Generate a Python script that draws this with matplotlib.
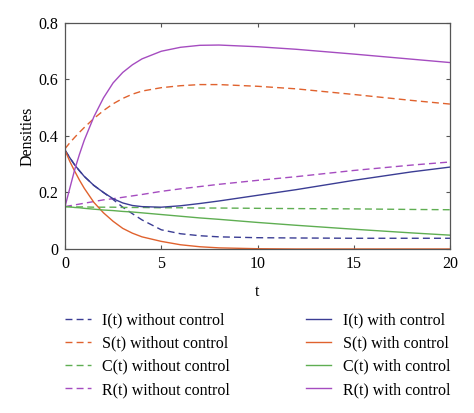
import matplotlib.pyplot as plt

plt.rcParams['font.family'] = ['Liberation Serif', 'DejaVu Serif']

# values
t = [0, 0.25, 0.5, 0.75, 1, 1.5, 2, 2.5, 3, 3.5, 4, 5, 6, 7, 8, 10, 12, 15, 18, 20]

I_wo = [0.35, 0.323, 0.298, 0.277, 0.257, 0.225, 0.2, 0.175, 0.148, 0.125, 0.103,
        0.068, 0.054, 0.047, 0.043, 0.040, 0.039, 0.038, 0.038, 0.038]
S_wo = [0.355, 0.376, 0.395, 0.413, 0.43, 0.462, 0.49, 0.514, 0.533, 0.548, 0.559,
        0.571, 0.578, 0.582, 0.582, 0.576, 0.567, 0.547, 0.526, 0.513]
C_wo = [0.15, 0.15, 0.149, 0.149, 0.149, 0.148, 0.148, 0.148, 0.147, 0.147, 0.147,
        0.146, 0.146, 0.145, 0.145, 0.144, 0.143, 0.142, 0.140, 0.139]
R_wo = [0.15, 0.153, 0.156, 0.159, 0.162, 0.168, 0.174, 0.178, 0.183, 0.188, 0.193,
        0.204, 0.213, 0.221, 0.229, 0.243, 0.256, 0.278, 0.297, 0.308]

I_w = [0.35, 0.323, 0.298, 0.277, 0.257, 0.225, 0.2, 0.178, 0.163, 0.154, 0.15,
       0.148, 0.153, 0.161, 0.17, 0.19, 0.21, 0.243, 0.273, 0.29]
S_w = [0.35, 0.31, 0.276, 0.244, 0.215, 0.165, 0.128, 0.098, 0.073, 0.056, 0.043,
       0.027, 0.015, 0.008, 0.004, 0.001, 0.0, 0.0, 0.0, 0.0]
C_w = [0.15, 0.149, 0.147, 0.146, 0.144, 0.141, 0.138, 0.136, 0.133, 0.131, 0.128,
       0.122, 0.116, 0.11, 0.105, 0.094, 0.084, 0.07, 0.057, 0.049]
R_w = [0.15, 0.215, 0.28, 0.335, 0.385, 0.468, 0.535, 0.588, 0.625, 0.652, 0.673,
       0.70, 0.714, 0.721, 0.722, 0.716, 0.707, 0.69, 0.672, 0.66]

colors = ['#3b3d94', '#e0622e', '#5fae52', '#a54cc0']
names = ['I(t)', 'S(t)', 'C(t)', 'R(t)']

fig = plt.figure(figsize=(4.74, 4.13), dpi=100)
ax = fig.add_axes([65 / 474, 1 - 249 / 413, 385 / 474, 226 / 413])

for ys, c, n in zip([I_wo, S_wo, C_wo, R_wo], colors, names):
    ax.plot(t, ys, color=c, lw=1.0, dashes=(5, 3), label=n + ' without control')
for ys, c, n in zip([I_w, S_w, C_w, R_w], colors, names):
    ax.plot(t, ys, color=c, lw=1.0, label=n + ' with control')

ax.set_xlim(0, 20)
ax.set_ylim(0, 0.8)
ax.set_xticks([0, 5, 10, 15, 20])
ax.set_yticks([0, 0.2, 0.4, 0.6, 0.8])
ax.set_yticklabels(['0', '0.2', '0.4', '0.6', '0.8'])
ax.tick_params(direction='in', top=True, right=True, length=3, width=0.8,
               labelsize=11.5, color='#555555', pad=5)
for s in ax.spines.values():
    s.set_color('#555555')
    s.set_linewidth(0.9)
ax.set_xlabel('t', fontsize=11.5, labelpad=9)
ax.set_ylabel('Densities', fontsize=11.5, labelpad=2)

h, l = ax.get_legend_handles_labels()
fig.legend(h, l, ncol=2, loc='upper left', bbox_to_anchor=(51 / 474, 1 - 298 / 413),
           frameon=False, fontsize=11.5, handlelength=1.6, handletextpad=0.7,
           columnspacing=4.75, labelspacing=0.45)

fig.savefig('out.png', dpi=100)
